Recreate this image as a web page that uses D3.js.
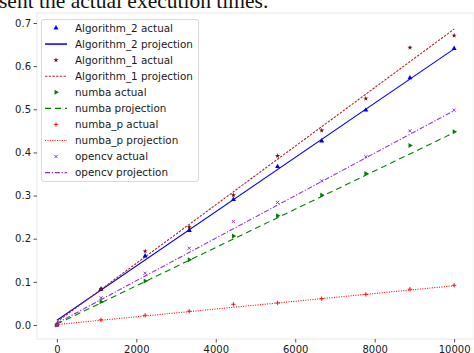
<!DOCTYPE html>
<html>
<head>
<meta charset="utf-8">
<script src="https://cdn.jsdelivr.net/npm/d3@7"></script>
<style>
  body { margin: 0; background: #fff; }
  svg { display: block; }
</style>
</head>
<body>
<div id="chart"></div>
<script>
// image sizes (x axis)
var sizes = [0, 1111, 2222, 3333, 4444, 5555, 6666, 7777, 8888, 10000];

// measured execution times
var algo2Actual = [0.0, 0.083, 0.16, 0.219, 0.291, 0.367, 0.4265, 0.498, 0.573, 0.641];
var algo1Actual = [0.0, 0.083, 0.171, 0.227, 0.301, 0.392, 0.451, 0.525, 0.643, 0.671];
var numbaActual = [0.0, 0.054, 0.102, 0.151, 0.206, 0.253, 0.301, 0.351, 0.416, 0.448];
var numbaPActual = [0.0, 0.012, 0.0225, 0.032, 0.048, 0.051, 0.061, 0.071, 0.083, 0.092];
var opencvActual = [0.0, 0.063, 0.12, 0.178, 0.24, 0.284, 0.334, 0.39, 0.45, 0.498];

// linear projections: value at first and last size
var projSizes = [0, 10000];
var algo2Proj = [0.011, 0.640];
var algo1Proj = [0.007, 0.686];
var numbaProj = [0.002, 0.446];
var numbaPProj = [0.001, 0.091];
var opencvProj = [0.004, 0.497];

var xTicks = [0, 2000, 4000, 6000, 8000, 10000];
var yTicks = [0.0, 0.1, 0.2, 0.3, 0.4, 0.5, 0.6, 0.7];

var series = [
  { name: "Algorithm_2", actual: algo2Actual, proj: algo2Proj, marker: "triUp", mcolor: "#0000ee", lcolor: "#0000ee", dash: null },
  { name: "Algorithm_1", actual: algo1Actual, proj: algo1Proj, marker: "star", mcolor: "#6e0f0f", lcolor: "#a52a2a", dash: "2.4,1.3" },
  { name: "numba", actual: numbaActual, proj: numbaProj, marker: "triRight", mcolor: "#008000", lcolor: "#008000", dash: "6,4" },
  { name: "numba_p", actual: numbaPActual, proj: numbaPProj, marker: "plus", mcolor: "#ff0000", lcolor: "#ff0000", dash: "1,1.4" },
  { name: "opencv", actual: opencvActual, proj: opencvProj, marker: "cross", mcolor: "#8a2be2", lcolor: "#8a2be2", dash: "5,1.8,1.2,1.8" }
];

var W = 474, H = 353;
var svg = d3.select("#chart").append("svg")
  .attr("width", W).attr("height", H);

// caption text cut off at the top of the crop
svg.append("text")
  .attr("x", -1).attr("y", 8)
  .style("font-family", "'Liberation Serif', 'DejaVu Serif', serif")
  .style("font-size", "21.5px")
  .style("fill", "#111")
  .text("sent the actual execution times.");

var plot = { left: 37, right: 474, top: 13, bottom: 339 };

var xScale = d3.scaleLinear().domain([-500, 10500]).range([plot.left, plot.right]);
var yScale = d3.scaleLinear().domain([-0.0325, 0.7232]).range([plot.bottom, plot.top]);

// frame (light spines)
svg.append("rect")
  .attr("x", plot.left).attr("y", plot.top)
  .attr("width", plot.right - plot.left).attr("height", plot.bottom - plot.top)
  .style("fill", "none").style("stroke", "#e8e8e8").style("stroke-width", 1);

// axes
var xAxis = svg.append("g")
  .attr("transform", "translate(0," + plot.bottom + ")")
  .call(d3.axisBottom(xScale).tickValues(xTicks).tickSize(3.5).tickPadding(3).tickFormat(d3.format("d")));
var yAxis = svg.append("g")
  .attr("transform", "translate(" + plot.left + ",0)")
  .call(d3.axisLeft(yScale).tickValues(yTicks).tickSize(3.5).tickPadding(2.5).tickFormat(d3.format(".1f")));

[xAxis, yAxis].forEach(function(g) {
  g.select(".domain").remove();
  g.selectAll("line").style("stroke", "#555");
  g.selectAll("text")
    .style("font-family", "'DejaVu Sans', sans-serif")
    .style("font-size", "10px")
    .style("fill", "#1a1a1a");
});

function drawMarker(g, type, color, x, y) {
  var t = "translate(" + x + "," + y + ")";
  if (type === "plus" || type === "cross") {
    var r = 2.2;
    g.append("path")
      .attr("d", "M" + (-r) + ",0H" + r + "M0," + (-r) + "V" + r)
      .attr("transform", t + (type === "cross" ? " rotate(45)" : ""))
      .style("fill", "none").style("stroke", color).style("stroke-width", 0.9);
    return;
  }
  var sym, size, rot = "";
  if (type === "triUp") { sym = d3.symbolTriangle; size = 11; }
  if (type === "triRight") { sym = d3.symbolTriangle; size = 11; rot = " rotate(90)"; }
  if (type === "star") { sym = d3.symbolStar; size = 8; }
  g.append("path")
    .attr("d", d3.symbol().type(sym).size(size)())
    .attr("transform", t + rot)
    .style("fill", color).style("stroke", "none");
}

var line = d3.line()
  .x(function(d) { return xScale(d[0]); })
  .y(function(d) { return yScale(d[1]); });

// projection lines
series.forEach(function(s) {
  var pts = projSizes.map(function(x, i) { return [x, s.proj[i]]; });
  svg.append("path")
    .datum(pts)
    .attr("d", line)
    .style("fill", "none")
    .style("stroke", s.lcolor)
    .style("stroke-width", 1.1)
    .style("stroke-dasharray", s.dash);
});

// actual points
series.forEach(function(s) {
  var g = svg.append("g");
  sizes.forEach(function(x, i) {
    drawMarker(g, s.marker, s.mcolor, xScale(x), yScale(s.actual[i]));
  });
});

// legend
var legend = svg.append("g");
legend.append("rect")
  .attr("x", 41.5).attr("y", 19.5)
  .attr("width", 157).attr("height", 162)
  .attr("rx", 2.5)
  .style("fill", "rgba(255,255,255,0.85)")
  .style("stroke", "#d9d9d9").style("stroke-width", 1);

var rowY0 = 28, rowStep = 16.07;
series.forEach(function(s, k) {
  var yA = rowY0 + rowStep * (2 * k);
  var yP = rowY0 + rowStep * (2 * k + 1);
  drawMarker(legend, s.marker, s.mcolor, 56, yA);
  legend.append("line")
    .attr("x1", 45).attr("x2", 67).attr("y1", yP).attr("y2", yP)
    .style("stroke", s.lcolor).style("stroke-width", s.dash ? 1.1 : 1.5)
    .style("stroke-dasharray", s.dash);
  [[yA, s.name + " actual"], [yP, s.name + " projection"]].forEach(function(r) {
    legend.append("text")
      .attr("x", 75).attr("y", r[0])
      .attr("dy", "0.35em")
      .style("font-family", "'DejaVu Sans', sans-serif")
      .style("font-size", "10.4px")
      .style("fill", "#1a1a1a")
      .text(r[1]);
  });
});
</script>
</body>
</html>
